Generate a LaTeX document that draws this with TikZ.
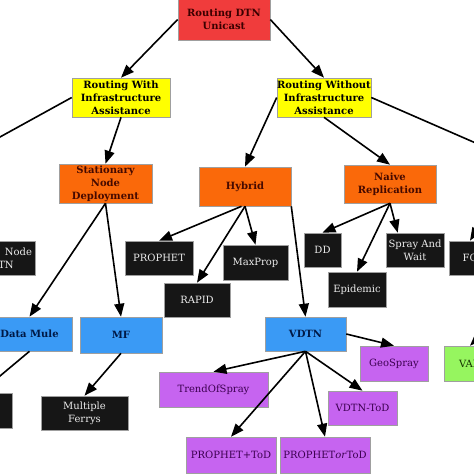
\documentclass[tikz,border=0pt]{standalone}
\usepackage{fontspec}
\setmainfont{DejaVu Serif}
\usepackage{tikz}
\usetikzlibrary{arrows.meta}

\definecolor{rootred}{RGB}{240,60,60}
\definecolor{infyellow}{RGB}{255,255,0}
\definecolor{catorange}{RGB}{250,105,10}
\definecolor{vblue}{RGB}{58,154,245}
\definecolor{protopurple}{RGB}{198,100,240}
\definecolor{protogreen}{RGB}{150,245,95}
\definecolor{algoblack}{RGB}{22,22,22}

\begin{document}
\begin{tikzpicture}[x=1pt, y=-1pt,
    box/.style={draw=gray!75, line width=0.6pt, inner sep=0pt, align=center,
        font=\fontsize{10}{13}\selectfont, minimum height=34pt},
    head/.style={box, font=\fontsize{10}{13}\selectfont\bfseries},
    rootbox/.style={head, fill=rootred, text={rgb,255:red,60;green,0;blue,0}},
    infbox/.style={head, fill=infyellow, text=black},
    catbox/.style={head, fill=catorange, text={rgb,255:red,70;green,10;blue,0}},
    vbox/.style={head, fill=vblue, text={rgb,255:red,0;green,25;blue,70}},
    algobox/.style={box, fill=algoblack, text=white!92!black},
    protobox/.style={box, fill=protopurple, text={rgb,255:red,60;green,0;blue,80}},
    greenbox/.style={box, fill=protogreen, text={rgb,255:red,20;green,50;blue,0}},
    edge/.style={-{Triangle[length=13pt, width=10pt]}, line width=1.6pt, black},
    freeedge/.style={line width=1.6pt, black}]

    \useasboundingbox (0,0) rectangle (474,474);
    \fill[white] (0,0) rectangle (474,474);
    \clip (0,0) rectangle (474,474);

    % top levels
    \node[rootbox, minimum width=92pt, minimum height=41pt] (root) at (224,19.5) {Routing DTN\\Unicast};
    \node[infbox, minimum width=98pt, minimum height=39pt] (withinf) at (121,97.5) {Routing With\\Infrastructure\\Assistance};
    \node[infbox, minimum width=94pt, minimum height=39pt] (withoutinf) at (324,97.5) {Routing Without\\Infrastructure\\Assistance};

    % categories
    \node[catbox, minimum width=93pt, minimum height=39pt] (stationary) at (105.5,183.5) {Stationary\\Node\\Deployment};
    \node[catbox, minimum width=92pt, minimum height=39pt] (hybrid) at (245,186.5) {Hybrid};
    \node[catbox, minimum width=92pt, minimum height=38pt] (naive) at (390,184) {Naive\\Replication};

    % black protocols
    \node[algobox, minimum width=66pt] (nodedtn) at (2,258) {\phantom{Static} Node\\DTN};
    \node[algobox, minimum width=68pt] (prophet) at (159,258) {PROPHET};
    \node[algobox, minimum width=65pt, minimum height=35pt] (maxprop) at (255.5,262.5) {MaxProp};
    \node[algobox, minimum width=66pt] (rapid) at (197,300) {RAPID};
    \node[algobox, minimum width=37pt] (dd) at (322.5,250) {DD};
    \node[algobox, minimum width=58pt, minimum height=35pt] (epidemic) at (357,289.5) {Epidemic};
    \node[algobox, minimum width=58pt] (spray) at (415,250) {Spray And\\Wait};
    \node[algobox, minimum width=42pt] (fc) at (470,258) {FC};

    % blue level
    \node[vbox, minimum width=85pt] (datamule) at (29.5,334) {Data Mule};
    \node[vbox, minimum width=82pt, minimum height=36pt] (mf) at (121,335) {MF};
    \node[vbox, minimum width=81pt] (vdtn) at (305.5,334) {VDTN};
    \node[algobox, minimum width=64pt, minimum height=35pt] (leftbox) at (-20,410.5) {};
    \node[algobox, minimum width=87pt] (ferrys) at (84.5,413) {Multiple\\Ferrys};

    % VDTN protocols
    \node[protobox, minimum width=68pt, minimum height=35pt] (geospray) at (394,363.5) {GeoSpray};
    \node[greenbox, minimum width=52pt, minimum height=35pt] (vad) at (470,363.5) {VAD};
    \node[protobox, minimum width=109pt, minimum height=35pt] (trend) at (213.5,389.5) {TrendOfSpray};
    \node[protobox, minimum width=69pt] (vtod) at (362.5,408) {VDTN-ToD};
    \node[protobox, minimum width=90pt, minimum height=36pt] (ptod) at (231,455) {PROPHET+ToD};
    \node[protobox, minimum width=90pt, minimum height=36pt] (portod) at (325,455) {PROPHET\textit{or}ToD};

    % free ends outside the frame
    \coordinate (offleft) at (-20,148);
    \coordinate (offright) at (494,151);
    \coordinate (fcin) at (492,205);
    \coordinate (vadin) at (494,322);

    % edges
    \draw[edge] (root.west) -- (withinf.north);
    \draw[edge] (root.east) -- (withoutinf.north);
    \draw[freeedge] (withinf.west) -- (offleft);
    \draw[freeedge] (withoutinf.east) -- (offright);
    \draw[edge] (withinf.south) -- (stationary.north);
    \draw[edge] (withoutinf.west) -- (hybrid.north);
    \draw[edge] (withoutinf.south) -- (naive.north);

    \draw[edge] (stationary.south) -- (datamule.north);
    \draw[edge] (stationary.south) -- (mf.north);
    \draw[edge] (hybrid.260) -- (prophet.north);
    \draw[edge] (hybrid.south) -- (rapid.north);
    \draw[edge] (hybrid.south) -- (maxprop.north);
    \draw[edge] (hybrid.south east) -- (vdtn.north);
    \draw[edge] (naive.south) -- (dd.north);
    \draw[edge] (naive.south) -- (epidemic.north);
    \draw[edge] (naive.south) -- (spray.135);
    \draw[edge] (fcin) -- (fc.north);

    \draw[edge] (datamule.south) -- (leftbox.north);
    \draw[edge] (mf.south) -- (ferrys.north);
    \draw[edge] (vdtn.east) -- (geospray.north);
    \draw[edge] (vadin) -- (vad.north);
    \draw[edge] (vdtn.south) -- (trend.north);
    \draw[edge] (vdtn.south) -- (vtod.north);
    \draw[edge] (vdtn.south) -- (ptod.north);
    \draw[edge] (vdtn.south) -- (portod.north);
\end{tikzpicture}
\end{document}
